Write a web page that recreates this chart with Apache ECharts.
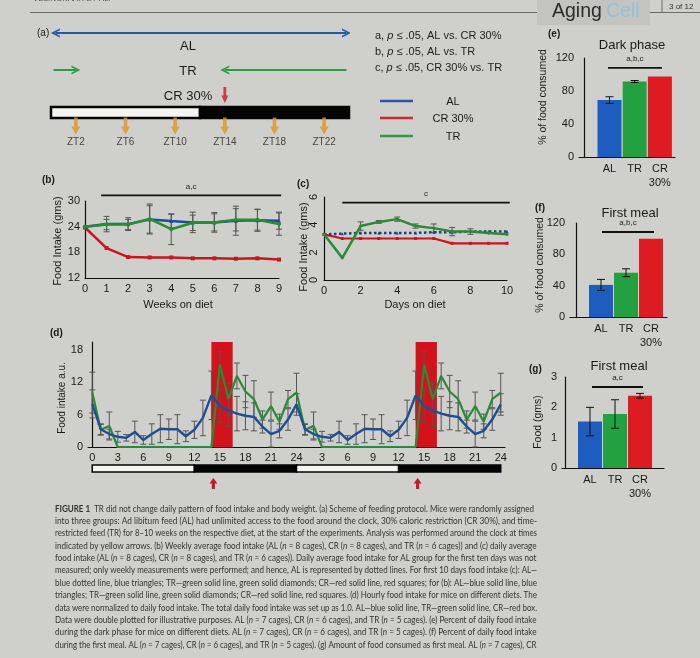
<!DOCTYPE html>
<html>
<head>
<meta charset="utf-8">
<title>Food intake</title>
<script src="https://cdn.jsdelivr.net/npm/echarts@6/dist/echarts.min.js"></script>
<style>
  html, body { margin: 0; padding: 0; background: #cfcfcb; }
  #chart { width: 700px; height: 658px; }
</style>
</head>
<body>
<div id="chart"></div>
<script>
// (a) feeding scheme, in ZT hours
var ztTimes = [2, 6, 10, 14, 18, 22];
var crFeedTime = 14;
var trWindow = [14, 2];          // TR eats from ZT14 round to ZT2
var dayPhases = [[0, 12, 0], [12, 24, 1]];   // 0 light, 1 dark

// (b) weekly food intake (gms)
var weeks = [0, 1, 2, 3, 4, 5, 6, 7, 8, 9];
var weeklyAL = [24, 24.6, 24.6, 25.7, 25.3, 25.0, 25.0, 25.4, 25.5, 25.4];
var weeklyTR = [24, 24.5, 24.5, 25.8, 23.4, 24.9, 25.0, 25.6, 25.6, 24.6];
var weeklyCR = [23.8, 19.0, 16.9, 16.8, 16.8, 16.6, 16.6, 16.5, 16.6, 16.3];
var weeklyALErr = [0, 1.8, 1.5, 3.2, 1.6, 2.4, 2.3, 3.4, 2.6, 2.0];
var weeklyTRErr = [0, 1.2, 1.2, 3.5, 3.6, 1.8, 2.0, 2.6, 2.4, 2.6];

// (c) daily food intake, first 10 days (gms)
var days = [0, 1, 2, 3, 4, 5, 6, 7, 8, 9, 10];
var dailyAL = [3.3, 3.35, 3.4, 3.4, 3.4, 3.4, 3.45, 3.45, 3.5, 3.5, 3.5];
var dailyTR = [3.3, 1.6, 3.9, 4.2, 4.4, 3.9, 3.75, 3.5, 3.5, 3.4, 3.3];
var dailyCR = [3.3, 3.0, 3.0, 3.0, 3.0, 3.0, 3.0, 2.65, 2.65, 2.65, 2.65];
var dailyTRErr = [0, 0, 0.3, 0.1, 0.15, 0.15, 0.3, 0.3, 0.2, 0, 0];

// (d) hourly food intake a.u., ZT0..ZT24 (double plotted below)
var hours = [0, 1, 2, 3, 4, 5, 6, 7, 8, 9, 10, 11, 12, 13, 14, 15, 16, 17, 18, 19, 20, 21, 22, 23, 24];
var hourlyAL = [8.0, 3.3, 2.4, 1.9, 1.7, 2.8, 1.3, 2.4, 3.4, 3.3, 3.3, 2.0, 3.2, 5.4, 9.6, 7.6, 6.8, 6.2, 5.8, 5.6, 3.8, 2.4, 3.0, 5.1, 7.9];
var hourlyTR = [10.1, 3.2, 3.9, 0, 0, 0, 0, 0, 0, 0, 0, 0, 0, 0, 0, 15.3, 8.9, 13.2, 10.3, 8.9, 5.1, 7.6, 4.7, 8.9, 10.1];
var hourlyALErr = [2.6, 1.0, 0.9, 1.0, 0.6, 2.0, 0.8, 1.9, 2.6, 1.9, 2.7, 1.0, 1.6, 3.3, 4.5, 3.0, 3.0, 3.2, 2.6, 2.6, 1.2, 2.4, 1.3, 2.0, 2.0];
var hourlyTRErr = [3.8, 1.0, 2.6, 0, 0, 0, 0, 0, 0, 0, 0, 0, 0, 0, 0, 2.4, 3.0, 2.4, 3.0, 3.4, 1.6, 2.6, 1.4, 1.6, 3.6];
var crFeedWindow = [14, 16.5];

// (e)(f)(g) group bars
var groups = ['AL', 'TR', 'CR\n30%'];
var darkPhasePct = [69, 91.5, 97.5];
var darkPhasePctErr = [4, 1.2, 0];
var firstMealPct = [41, 56.5, 100];
var firstMealPctErr = [7, 5, 0];
var firstMealGms = [1.53, 1.78, 2.38];
var firstMealGmsErr = [0.47, 0.47, 0.08];

var BLUE = '#1d4e96', GREEN = '#2b8b35', RED = '#c9161e';
var barColors = ['#1f5cc0', '#23a03f', '#dc1b22'];
var FONT = 'Liberation Sans';

// hourly data is plotted twice: day 1 0..24, day 2 25..48
function doublePlot(vals, errs) {
  var out = [];
  hours.forEach(function (h, i) { out.push(errs ? [h, vals[i], errs[i]] : [h, vals[i]]); });
  hours.slice(1).forEach(function (h, i) { out.push(errs ? [h + 24, vals[i + 1], errs[i + 1]] : [h + 24, vals[i + 1]]); });
  return out;
}
function withErr(xs, vals, errs) {
  return xs.map(function (x, i) { return [x, vals[i], errs[i]]; });
}
function pairs(xs, vals) {
  return xs.map(function (x, i) { return [x, vals[i]]; });
}

function errorBars(gi, data, color, cap) {
  return {
    type: 'custom', xAxisIndex: gi, yAxisIndex: gi, silent: true, z: 3, data: data,
    renderItem: function (params, api) {
      var e = api.value(2);
      if (!e) return;
      var x = api.value(0), y = api.value(1);
      var hi = api.coord([x, y + e]), lo = api.coord([x, Math.max(y - e, 0)]);
      var st = { stroke: color, lineWidth: 1 };
      return { type: 'group', children: [
        { type: 'line', shape: { x1: hi[0], y1: hi[1], x2: lo[0], y2: lo[1] }, style: st },
        { type: 'line', shape: { x1: hi[0] - cap, y1: hi[1], x2: hi[0] + cap, y2: hi[1] }, style: st },
        { type: 'line', shape: { x1: lo[0] - cap, y1: lo[1], x2: lo[0] + cap, y2: lo[1] }, style: st }
      ] };
    }
  };
}

function sigLine(gi, s) {
  return {
    type: 'custom', xAxisIndex: gi, yAxisIndex: gi, silent: true, clip: false,
    data: [[s.from, s.to, s.y]],
    renderItem: function (params, api) {
      var a = api.coord([api.value(0), api.value(2)]), b = api.coord([api.value(1), api.value(2)]);
      return { type: 'group', children: [
        { type: 'line', shape: { x1: a[0], y1: a[1], x2: b[0], y2: b[1] }, style: { stroke: '#111', lineWidth: 1.8 } },
        { type: 'text', x: (a[0] + b[0]) / 2, y: a[1] - 9,
          style: { text: s.text, fontSize: 8, fontFamily: FONT, fill: '#222', align: 'center', verticalAlign: 'middle' } }
      ] };
    }
  };
}

function axisStyle(extra) {
  var o = {
    axisLine: { lineStyle: { color: '#111', width: 1.2 } },
    axisTick: { show: false },
    splitLine: { show: false },
    axisLabel: { color: '#1a1a1a', fontSize: 11, fontFamily: FONT, margin: 5 }
  };
  for (var k in extra) {
    if (k === 'axisLabel') { for (var j in extra[k]) o.axisLabel[j] = extra[k][j]; }
    else o[k] = extra[k];
  }
  return o;
}

var chevron = 'path://M0,10 L5,0 L10,10 L8,10 L5,4 L2,10 Z';
var downArrow = 'path://M3,0 L7,0 L7,9 L10,9 L5,17 L0,9 L3,9 Z';

var grids = [
  { left: 51, top: 0, width: 298, height: 150 },     // a
  { left: 85, top: 201, width: 194, height: 77 },    // b
  { left: 324, top: 197, width: 183, height: 83 },   // c
  { left: 88, top: 342, width: 417, height: 105 },   // d
  { left: 579, top: 58, width: 96, height: 99 },     // e
  { left: 570, top: 223, width: 97, height: 94 },    // f
  { left: 562, top: 377, width: 102, height: 91 }    // g
];

var barX = [1, 2, 3];
function groupAxis(gi, min, max) {
  return axisStyle({ type: 'value', gridIndex: gi, min: min, max: max,
    axisLabel: { customValues: barX, lineHeight: 14, formatter: function (v) { return groups[v - 1]; } } });
}
function barSeries(gi, vals) {
  return { type: 'bar', xAxisIndex: gi, yAxisIndex: gi, barWidth: 24, silent: true,
    data: vals.map(function (v, i) { return { value: [barX[i], v], itemStyle: { color: barColors[i] } }; }) };
}

var xAxes = [
  { type: 'value', gridIndex: 0, min: 0, max: 24, show: false },
  axisStyle({ type: 'value', gridIndex: 1, min: 0, max: 9, interval: 1 }),
  axisStyle({ type: 'value', gridIndex: 2, min: 0, max: 10, interval: 2 }),
  axisStyle({ type: 'value', gridIndex: 3, min: -0.5, max: 48.5,
    axisLabel: { customValues: [0, 3, 6, 9, 12, 15, 18, 21, 24, 27, 30, 33, 36, 39, 42, 45, 48],
      formatter: function (v) { return v === 0 ? '0' : String(v % 24 === 0 ? 24 : v % 24); } } }),
  groupAxis(4, -0.21, 3.6),
  groupAxis(5, -0.24, 3.64),
  groupAxis(6, -0.12, 3.96)
];
var yAxes = [
  { type: 'value', gridIndex: 0, min: 0, max: 150, inverse: true, show: false },
  axisStyle({ type: 'value', gridIndex: 1, min: 12, max: 30, interval: 6 }),
  axisStyle({ type: 'value', gridIndex: 2, min: 0, max: 6, interval: 2, axisLabel: { rotate: 90 } }),
  axisStyle({ type: 'value', gridIndex: 3, min: 0, max: 19.5, axisLabel: { customValues: [0, 6, 12, 18] } }),
  axisStyle({ type: 'value', gridIndex: 4, min: 0, max: 120, interval: 40 }),
  axisStyle({ type: 'value', gridIndex: 5, min: 0, max: 120, interval: 40 }),
  axisStyle({ type: 'value', gridIndex: 6, min: 0, max: 3, interval: 1 })
];

// --- panel (a) scheme (y of grid 0 is a row position in px)
var rowAL = 33, rowTR = 70, barTop = 107, barH = 11, ztRow = 126;
var seriesA = [
  { type: 'lines', coordinateSystem: 'cartesian2d', xAxisIndex: 0, yAxisIndex: 0, silent: true,
    symbol: [chevron, chevron], symbolSize: 9, lineStyle: { color: '#2559a8', width: 2, opacity: 1 },
    data: [{ coords: [[0.35, rowAL], [23.8, rowAL]] }] },
  { type: 'lines', coordinateSystem: 'cartesian2d', xAxisIndex: 0, yAxisIndex: 0, silent: true,
    symbol: ['none', chevron], symbolSize: 9, lineStyle: { color: '#2f9a45', width: 2, opacity: 1 },
    data: [{ coords: [[0.2, rowTR], [trWindow[1], rowTR]] }, { coords: [[23.8, rowTR], [trWindow[0], rowTR]] }] },
  { type: 'custom', xAxisIndex: 0, yAxisIndex: 0, silent: true, data: dayPhases,
    renderItem: function (params, api) {
      var a = api.coord([api.value(0), barTop]), b = api.coord([api.value(1), barTop + barH]);
      return { type: 'rect', shape: { x: a[0], y: a[1], width: b[0] - a[0], height: b[1] - a[1] },
        style: { fill: api.value(2) ? '#050505' : '#f4f4f2', stroke: '#050505', lineWidth: 2.5 } };
    } },
  { type: 'scatter', xAxisIndex: 0, yAxisIndex: 0, silent: true, symbol: downArrow, symbolSize: [9, 17],
    itemStyle: { color: '#e0951e' },
    label: { show: true, position: 'bottom', distance: 3, color: '#222', fontSize: 10, fontFamily: FONT,
      formatter: function (p) { return 'ZT' + p.value[0]; } },
    data: ztTimes.map(function (z) { return [z, ztRow]; }) },
  { type: 'scatter', xAxisIndex: 0, yAxisIndex: 0, silent: true, symbol: downArrow, symbolSize: [7, 16],
    itemStyle: { color: '#c8162a' }, data: [[crFeedTime, 95]] }
];

// --- panel (b)
var seriesB = [
  errorBars(1, withErr(weeks, weeklyAL, weeklyALErr), '#555', 3),
  errorBars(1, withErr(weeks, weeklyTR, weeklyTRErr), '#555', 3),
  { type: 'line', xAxisIndex: 1, yAxisIndex: 1, data: pairs(weeks, weeklyCR),
    symbol: 'rect', symbolSize: 4, lineStyle: { color: RED, width: 2.5 }, itemStyle: { color: RED }, silent: true, z: 4 },
  { type: 'line', xAxisIndex: 1, yAxisIndex: 1, data: pairs(weeks, weeklyAL),
    symbol: 'triangle', symbolSize: 4, lineStyle: { color: BLUE, width: 2.5 }, itemStyle: { color: BLUE }, silent: true, z: 4 },
  { type: 'line', xAxisIndex: 1, yAxisIndex: 1, data: pairs(weeks, weeklyTR),
    symbol: 'diamond', symbolSize: 5, lineStyle: { color: GREEN, width: 2.5 }, itemStyle: { color: GREEN }, silent: true, z: 5 },
  sigLine(1, { from: 0.75, to: 9.1, y: 31.3, text: 'a,c' })
];

// --- panel (c)
var seriesC = [
  errorBars(2, withErr(days, dailyTR, dailyTRErr), '#555', 3),
  { type: 'line', xAxisIndex: 2, yAxisIndex: 2, data: pairs(days, dailyCR),
    symbol: 'rect', symbolSize: 3, lineStyle: { color: RED, width: 2.2 }, itemStyle: { color: RED }, silent: true },
  { type: 'line', xAxisIndex: 2, yAxisIndex: 2, data: pairs(days, dailyAL),
    symbol: 'triangle', symbolSize: 3, lineStyle: { color: '#1b3f80', width: 2.5, type: 'dotted' }, itemStyle: { color: '#1b3f80' }, silent: true },
  { type: 'line', xAxisIndex: 2, yAxisIndex: 2, data: pairs(days, dailyTR),
    symbol: 'diamond', symbolSize: 4, lineStyle: { color: GREEN, width: 2.5 }, itemStyle: { color: GREEN }, silent: true, z: 4 },
  sigLine(2, { from: 1, to: 10.15, y: 5.6, text: 'c' })
];

// --- panel (d)
var crBoxes = [crFeedWindow, [crFeedWindow[0] + 24, crFeedWindow[1] + 24]];
var phases48 = dayPhases.concat(dayPhases.map(function (p) { return [p[0] + 24, p[1] + 24, p[2]]; }));
var seriesD = [
  { type: 'custom', xAxisIndex: 3, yAxisIndex: 3, silent: true, z: 1, data: crBoxes,
    renderItem: function (params, api) {
      var a = api.coord([api.value(0), 0]), b = api.coord([api.value(1), 0]);
      var top = params.coordSys.y;
      return { type: 'rect', shape: { x: a[0], y: top, width: b[0] - a[0], height: a[1] - top }, style: { fill: '#d3121b' } };
    } },
  { type: 'custom', xAxisIndex: 3, yAxisIndex: 3, silent: true, clip: false, data: phases48,
    renderItem: function (params, api) {
      var a = api.coord([api.value(0), 0]), b = api.coord([api.value(1), 0]);
      return { type: 'rect', shape: { x: a[0], y: a[1] + 18, width: b[0] - a[0], height: 7 },
        style: { fill: api.value(2) ? '#050505' : '#f4f4f2', stroke: '#050505', lineWidth: 1.5 } };
    } },
  { type: 'custom', xAxisIndex: 3, yAxisIndex: 3, silent: true, clip: false,
    data: crBoxes.map(function (b) { return [b[0]]; }),
    renderItem: function (params, api) {
      var a = api.coord([api.value(0), 0]);
      return { type: 'path', shape: { pathData: 'M5,0 L10,7 L7,7 L7,14 L3,14 L3,7 L0,7 Z', x: a[0] - 2, y: a[1] + 31, width: 8, height: 11 },
        style: { fill: '#c8162a' } };
    } },
  errorBars(3, doublePlot(hourlyTR, hourlyTRErr), '#555', 3),
  errorBars(3, doublePlot(hourlyAL, hourlyALErr), '#555', 3),
  { type: 'line', xAxisIndex: 3, yAxisIndex: 3, data: doublePlot(hourlyTR), showSymbol: false, silent: true, z: 4,
    lineStyle: { color: GREEN, width: 2.2 } },
  { type: 'line', xAxisIndex: 3, yAxisIndex: 3, data: doublePlot(hourlyAL), showSymbol: false, silent: true, z: 5,
    lineStyle: { color: BLUE, width: 2.4 } }
];

// --- panels (e)(f)(g)
var seriesEFG = [
  barSeries(4, darkPhasePct), errorBars(4, withErr(barX, darkPhasePct, darkPhasePctErr), '#111', 4),
  sigLine(4, { from: 0.94, to: 3.08, y: 108, text: 'a,b,c' }),
  barSeries(5, firstMealPct), errorBars(5, withErr(barX, firstMealPct, firstMealPctErr), '#111', 4),
  sigLine(5, { from: 1.04, to: 3.12, y: 108.5, text: 'a,b,c' }),
  barSeries(6, firstMealGms), errorBars(6, withErr(barX, firstMealGms, firstMealGmsErr), '#111', 4),
  sigLine(6, { from: 1.08, to: 3.12, y: 2.67, text: 'a,c' })
];

// --- texts
function txt(x, y, s, o) {
  o = o || {};
  return { type: 'text', x: x, y: y, rotation: o.rot || 0, silent: true, z: 10,
    style: { text: s, fontSize: o.size || 11, fontFamily: o.font || FONT, fill: o.color || '#1a1a1a',
      align: o.align || 'left', verticalAlign: 'middle', fontWeight: o.weight || 'normal', rich: o.rich } };
}
var R = Math.PI / 2;
var pRich = { i: { fontStyle: 'italic', fontSize: 11, fontFamily: FONT, fill: '#222' }, n: { fontSize: 11, fontFamily: FONT, fill: '#222' } };

var caption = [
  '{b|FIGURE 1}  TR did not change daily pattern of food intake and body weight. (a) Scheme of feeding protocol. Mice were randomly assigned',
  'into three groups: Ad libitum feed (AL) had unlimited access to the food around the clock, 30% caloric restriction (CR 30%), and time-',
  'restricted feed (TR) for 8\u201310 weeks on the respective diet, at the start of the experiments. Analysis was performed around the clock at times',
  'indicated by yellow arrows. (b) Weekly average food intake (AL ({i|n} = 8 cages), CR ({i|n} = 8 cages), and TR ({i|n} = 6 cages)) and (c) daily average',
  'food intake (AL ({i|n} = 8 cages), CR ({i|n} = 8 cages), and TR ({i|n} = 6 cages)). Daily average food intake for AL group for the first ten days was not',
  'measured; only weekly measurements were performed; and hence, AL is represented by dotted lines. For first 10 days food intake (c): AL\u2014',
  'blue dotted line, blue triangles; TR\u2014green solid line, green solid diamonds; CR\u2014red solid line, red squares; for (b): AL\u2014blue solid line, blue',
  'triangles; TR\u2014green solid line, green solid diamonds; CR\u2014red solid line, red squares. (d) Hourly food intake for mice on different diets. The',
  'data were normalized to daily food intake. The total daily food intake was set up as 1.0. AL\u2014blue solid line, TR\u2014green solid line, CR\u2014red box.',
  'Data were double plotted for illustrative purposes. AL ({i|n} = 7 cages), CR ({i|n} = 6 cages), and TR ({i|n} = 5 cages). (e) Percent of daily food intake',
  'during the dark phase for mice on different diets. AL ({i|n} = 7 cages), CR ({i|n} = 6 cages), and TR ({i|n} = 5 cages). (f) Percent of daily food intake',
  'during the first meal. AL ({i|n} = 7 cages), CR ({i|n} = 6 cages), and TR ({i|n} = 5 cages). (g) Amount of food consumed as first meal. AL ({i|n} = 7 cages), CR'
];
var CAP_SIZE = 10, CAP_W = 482;
var capRich = {
  b: { fontWeight: 'bold', fontFamily: 'Lato', fontSize: CAP_SIZE, fill: '#333' },
  i: { fontStyle: 'italic', fontFamily: 'Lato', fontSize: CAP_SIZE, fill: '#333' }
};
var measure = document.createElement('canvas').getContext('2d');
measure.font = CAP_SIZE + 'px Lato';
var captionGraphics = caption.map(function (line, i) {
  var plainText = line.replace(/\{[a-z]\|([^}]*)\}/g, '$1');
  var w = measure.measureText(plainText).width + (i === 0 ? 4 : 0);
  return { type: 'text', x: 55, y: 508.5 + i * 12.35, scaleX: CAP_W / w, silent: true,
    style: { text: line, rich: capRich, fontFamily: 'Lato', fontSize: CAP_SIZE, fill: '#333', verticalAlign: 'middle' } };
});

var graphics = [
  { type: 'line', shape: { x1: 30, y1: 12.5, x2: 700, y2: 12.5 }, style: { stroke: '#6a6a6a', lineWidth: 1 }, silent: true },
  { type: 'line', shape: { x1: 662, y1: 0, x2: 662, y2: 12.5 }, style: { stroke: '#6a6a6a', lineWidth: 1 }, silent: true },
  txt(33, -1, 'VELINGKAAR ET AL.', { size: 8, color: '#555' }),
  { type: 'rect', shape: { x: 537, y: 0, width: 113, height: 25 }, style: { fill: '#c3c3bf' }, silent: true },
  txt(552, 12, 'Aging', { size: 19.5, color: '#2b2b2b' }),
  txt(606, 12, 'Cell', { size: 19.5, color: '#8fc2de' }),
  txt(669, 7, '3 of 12', { size: 8, color: '#333' }),

  txt(37, 33, '(a)', { size: 10 }),
  txt(188, 46, 'AL', { size: 13, align: 'center' }),
  txt(188, 71, 'TR', { size: 13, align: 'center' }),
  txt(188, 96, 'CR 30%', { size: 13, align: 'center' }),
  txt(375, 36, '{n|a, }{i|p}{n| \u2264 .05, AL vs. CR 30%}', { rich: pRich }),
  txt(375, 52, '{n|b, }{i|p}{n| \u2264 .05, AL vs. TR}', { rich: pRich }),
  txt(375, 68, '{n|c, }{i|p}{n| \u2264 .05, CR 30% vs. TR}', { rich: pRich }),
  { type: 'line', shape: { x1: 380, y1: 101, x2: 413, y2: 101 }, style: { stroke: '#2559a8', lineWidth: 2.5 }, silent: true },
  { type: 'line', shape: { x1: 380, y1: 118, x2: 413, y2: 118 }, style: { stroke: '#cc2a30', lineWidth: 2.5 }, silent: true },
  { type: 'line', shape: { x1: 380, y1: 136, x2: 413, y2: 136 }, style: { stroke: '#2f9a45', lineWidth: 2.5 }, silent: true },
  txt(453, 102, 'AL', { align: 'center' }),
  txt(453, 119, 'CR 30%', { align: 'center' }),
  txt(453, 137, 'TR', { align: 'center' }),

  txt(42, 180, '(b)', { size: 10, weight: 'bold' }),
  txt(58, 241, 'Food Intake (gms)', { rot: R, align: 'center' }),
  txt(178, 305, 'Weeks on diet', { align: 'center' }),
  txt(297, 184, '(c)', { size: 10, weight: 'bold' }),
  txt(304, 247, 'Food Intake (gms)', { rot: R, align: 'center' }),
  txt(415, 305, 'Days on diet', { align: 'center' }),
  txt(50, 333, '(d)', { size: 10, weight: 'bold' }),
  txt(62, 398, 'Food intake a.u.', { rot: R, align: 'center', size: 10 }),

  txt(548, 34, '(e)', { size: 10, weight: 'bold' }),
  txt(632, 45, 'Dark phase', { size: 13, align: 'center' }),
  txt(543, 97, '% of food consumed', { rot: R, align: 'center', size: 10.5 }),
  txt(535, 208, '(f)', { size: 10, weight: 'bold' }),
  txt(630, 213, 'First meal', { size: 13, align: 'center' }),
  txt(540, 265, '% of food consumed', { rot: R, align: 'center', size: 10.5 }),
  txt(529, 369, '(g)', { size: 10, weight: 'bold' }),
  txt(619, 366, 'First meal', { size: 13, align: 'center' }),
  txt(538, 422, 'Food (gms)', { rot: R, align: 'center', size: 10.5 })
].concat(captionGraphics);

var chart = echarts.init(document.getElementById('chart'));
chart.setOption({
  backgroundColor: '#cfcfcb',
  animation: false,
  textStyle: { fontFamily: FONT },
  grid: grids,
  xAxis: xAxes,
  yAxis: yAxes,
  series: seriesA.concat(seriesB, seriesC, seriesD, seriesEFG),
  graphic: graphics
});
</script>
</body>
</html>
